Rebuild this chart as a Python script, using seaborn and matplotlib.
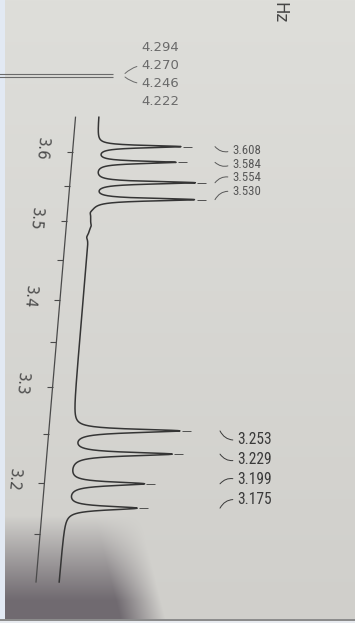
import numpy as np
import pandas as pd
import matplotlib
matplotlib.use("Agg")
import matplotlib.pyplot as plt
import matplotlib.ticker as mticker
import matplotlib.transforms as mtransforms
from matplotlib import font_manager
import mpl_toolkits.axisartist.floating_axes as floating_axes
from mpl_toolkits.axisartist.grid_finder import FixedLocator
import seaborn as sns

# ---------------- data ----------------
peaks_a_ppm = [3.608, 3.584, 3.554, 3.530]
peaks_a_int = [84, 80, 101, 102]
peaks_b_ppm = [3.253, 3.229, 3.199, 3.175]
peaks_b_int = [107, 101, 76, 71]
bumps_ppm = [3.512, 3.494, 3.479]
bumps_int = [-2.0, 1.5, -2.0]
quartet_ppm = [4.294, 4.270, 4.246, 4.222]
quartet_int = [1, 3, 3, 1]
axis_ticks = [3.15, 3.20, 3.25, 3.30, 3.35, 3.40, 3.45, 3.50, 3.55, 3.60]
axis_labels = ["", "3.2", "", "3.3", "", "3.4", "", "3.5", "", "3.6"]
ppm_range = (3.105, 3.655)
unit_text = "Hz"

# ---------------- style / layout ----------------
W, H = 355, 623
GAMMA = 0.0022          # Lorentzian half width (ppm)
P0, B1, B2 = 3.4, 827.5, 437.5   # photo perspective of the ppm axis (px)
KK = 0.085              # sideways drift of the tilted photo (px per px)
I_LIM = (-23, 262)
LINE = "#353535"
AXC = "#4a4a4a"


class PhotoTransform(mtransforms.Transform):
    """(intensity, ppm) -> tilted / perspective page coordinates (px)."""
    input_dims = output_dims = 2
    has_inverse = True

    def __init__(self, inverse=False):
        super().__init__()
        self._inv = inverse

    def transform_non_affine(self, values):
        v = np.asarray(values, float).reshape(-1, 2)
        a, b = v[:, 0], v[:, 1]
        if not self._inv:
            u = P0 - b
            yt = -(B1 * u + B2 * u * u)
            return np.column_stack([a + KK * yt, yt])
        yt = b
        u = (-B1 + np.sqrt(np.maximum(B1 * B1 - 4 * B2 * yt, 0))) / (2 * B2)
        return np.column_stack([a - KK * yt, P0 - u])

    def inverted(self):
        return PhotoTransform(not self._inv)


def pick_font(cands):
    names = {f.name for f in font_manager.fontManager.ttflist}
    for c in cands:
        if c in names:
            return [c, "DejaVu Sans"]
    return ["DejaVu Sans"]


NARROW = pick_font(["Liberation Sans Narrow", "Arial Narrow", "Roboto Condensed"])

fig = plt.figure(figsize=(W / 100, H / 100), dpi=100)

# ---- paper background (photo) ----
yy, xx = np.mgrid[0:H, 0:W].astype(float)
t = (yy / H)[..., None]
base = np.array([222, 222, 218]) * (1 - t) + np.array([208, 207, 203]) * t
sx = np.clip((138 - xx + (yy - 600) * 0.25) / 45 + 0.5, 0, 1)
sy = np.clip((yy - 515) / 85, 0, 1)
s = (sx * sy)[..., None]
img = base * (1 - s) + np.array([112, 106, 112]) * s
img[:, :5] = (226, 233, 243)
img[619:621] = (140, 140, 140)
img[621:] = (232, 235, 240)
bg = fig.add_axes([0, 0, 1, 1])
bg.imshow(img.astype(np.uint8), aspect="auto", interpolation="nearest")
bg.set_axis_off()
bg.set_zorder(-5)

# ---- spectrum data ----
ppm = np.linspace(ppm_range[0], ppm_range[1], 5000)


def lor(x0, h, g):
    return h * g ** 2 / ((ppm - x0) ** 2 + g ** 2)


inten = np.zeros_like(ppm)
for p, h in zip(peaks_a_ppm + peaks_b_ppm, peaks_a_int + peaks_b_int):
    inten += lor(p, h, GAMMA)
for p, h in zip(bumps_ppm, bumps_int):
    inten += lor(p, h, 0.004)
df = pd.DataFrame({"ppm": ppm, "intensity": inten})

# ---- tilted floating axes ----
tr = PhotoTransform()
lab_map = {round(v, 2): l for v, l in zip(axis_ticks, axis_labels)}
fmt = mticker.FuncFormatter(lambda v, pos: lab_map.get(round(v, 2), ""))
gh = floating_axes.GridHelperCurveLinear(
    tr, extremes=(I_LIM[0], I_LIM[1], ppm_range[0], ppm_range[1]),
    grid_locator1=FixedLocator([]),
    grid_locator2=FixedLocator(axis_ticks),
    tick_formatter2=fmt)
corners = tr.transform([[I_LIM[0], ppm_range[0]], [I_LIM[1], ppm_range[1]]])
bw = corners[1, 0] - corners[0, 0]
bh = corners[1, 1] - corners[0, 1]
left_px, bottom_px = 36, 41
rect = [(left_px - 0.01 * bw) / W, (bottom_px - 0.01 * bh) / H,
        1.02 * bw / W, 1.02 * bh / H]
ax = fig.add_axes(rect, axes_class=floating_axes.FloatingAxes, grid_helper=gh)
ax.patch.set_visible(False)
for side in ["right", "top", "bottom"]:
    ax.axis[side].set_visible(False)
la = ax.axis["left"]
la.line.set_color(AXC)
la.line.set_linewidth(0.9)
la.major_ticks.set_tick_out(True)
la.major_ticks.set_ticksize(4.5)
la.major_ticks.set_color(AXC)
la.major_ticklabels.set_rotation(0)
la.major_ticklabels.set_ha("center")
la.major_ticklabels.set_va("top")
la.major_ticklabels.set_fontsize(10.5)
la.major_ticklabels.set_color("#484848")
la.major_ticklabels.set_pad(4)
la.label.set_visible(False)

aux = ax.get_aux_axes(tr)
sns.lineplot(data=df, x="intensity", y="ppm", orient="y", estimator=None,
             sort=True, ax=aux, color=LINE, linewidth=1.1)
all_ppm = peaks_a_ppm + peaks_b_ppm
all_int = np.array(peaks_a_int + peaks_b_int)
aux.hlines(all_ppm, all_int + 3, all_int + 12, color="#505050", lw=0.7)


def label_group(ppms, x_conn, dx, step, shift, size, color):
    d = aux.transData.transform(np.column_stack([np.zeros(len(ppms)), ppms]))[:, 1]
    yc = d.mean() + shift
    n = len(ppms)
    for i, (p, y) in enumerate(zip(ppms, d)):
        ty = yc + ((n - 1) / 2 - i) * step
        rad = -0.35 if ty < y else 0.35
        aux.annotate(f"{p:.3f}", xy=(x_conn, p),
                     xycoords=("figure pixels", aux.transData),
                     xytext=(x_conn + dx, ty), textcoords="figure pixels",
                     ha="left", va="center", fontsize=size, color=color,
                     family=NARROW,
                     arrowprops=dict(arrowstyle="-", color=color, lw=0.7,
                                     shrinkA=1, shrinkB=0, relpos=(0, 0.5),
                                     connectionstyle=f"arc3,rad={rad}"))


label_group(peaks_a_ppm, 215, 17, 13.7, 1.8, 9.3, "#585858")
label_group(peaks_b_ppm, 220, 17, 20.0, -0.6, 11.2, "#3a3a3a")

# ---- upper (collapsed) quartet region ----
QS = 145.8   # px per ppm
c = float(np.mean(quartet_ppm))
axq = fig.add_axes([0, (H - 115) / H, 1, 85 / H])
axq.set_ylim(c - (115 - 75.25) / QS, c + (75.25 - 30) / QS)
axq.set_xlim(220, 220 + W)
axq.hlines(quartet_ppm, 0, np.array(quartet_int) * 111, color="#6a6a6a", lw=0.8)
axq.set_axis_off()
axq.patch.set_visible(False)
for i, (p, q) in enumerate(zip(quartet_ppm, quartet_int)):
    ly = H - (74.5 + (i - 1.5) * 18)
    kw = {}
    if q > 1:
        kw["arrowprops"] = dict(arrowstyle="-", color="#6a6a6a", lw=0.7,
                                shrinkA=1, shrinkB=0, relpos=(0, 0.5),
                                connectionstyle=f"arc3,rad={0.15 if i == 1 else -0.15}")
    axq.annotate(f"{p:.3f}", xy=(125, p),
                 xycoords=("figure pixels", axq.transData),
                 xytext=(141, ly), textcoords="figure pixels",
                 ha="left", va="center", fontsize=9.5, color="#6a6a6a", **kw)

fig.text(279 / W, (H - 12.5) / H, unit_text, rotation=-90, ha="center",
         va="center", fontsize=12, color="#454545")

fig.savefig("out.png", dpi=100)
